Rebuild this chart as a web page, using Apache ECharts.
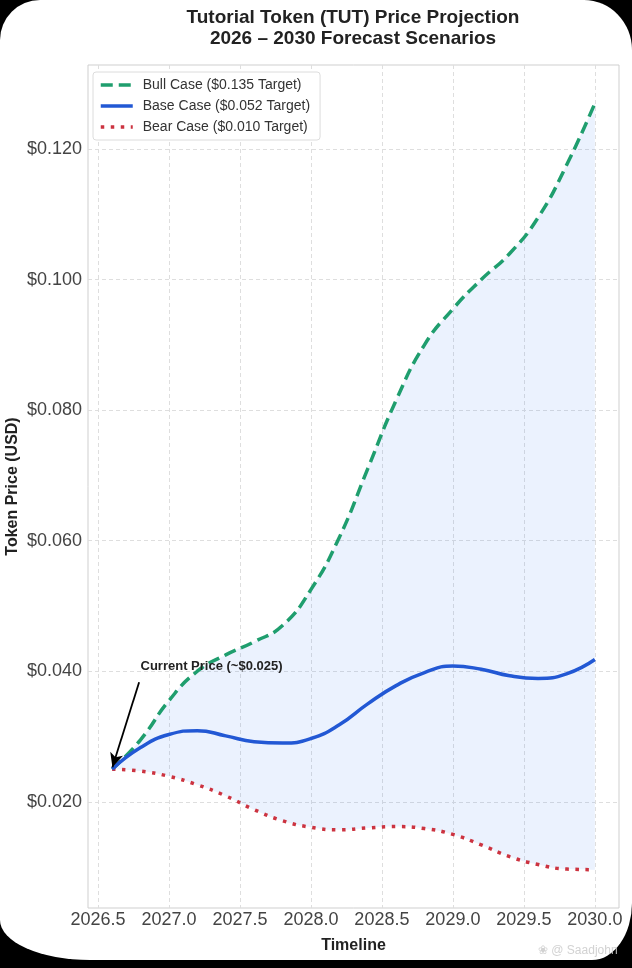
<!DOCTYPE html>
<html>
<head>
<meta charset="utf-8">
<script src="https://cdn.jsdelivr.net/npm/echarts@6/dist/echarts.min.js"></script>
<style>
  html, body { margin: 0; padding: 0; background: #000; width: 632px; height: 968px; overflow: hidden; }
  #card { position: absolute; left: 0; top: 0; width: 632px; height: 960px; background: #fff;
          border-radius: 40px 48px 40px 90px / 40px 50px 57px 40px; }
  #chart { position: absolute; left: 0; top: 0; width: 632px; height: 968px; }
</style>
</head>
<body>
<div id="card"></div>
<div id="chart"></div>
<script>
// ---- data ----
const years = [2026.6, 2026.8, 2027.0, 2027.2, 2027.4, 2027.6, 2027.8, 2028.0, 2028.2,
               2028.4, 2028.6, 2028.8, 2029.0, 2029.2, 2029.4, 2029.6, 2029.8, 2030.0];
const bullCase = [0.0250, 0.0295, 0.0355, 0.0400, 0.0425, 0.0445, 0.0470, 0.0525, 0.0605,
                  0.0710, 0.0815, 0.0900, 0.0955, 0.1000, 0.1040, 0.1095, 0.1175, 0.1270];
const baseCase = [0.0250, 0.0283, 0.0303, 0.0309, 0.0301, 0.0292, 0.0290, 0.0297, 0.0318,
                  0.0350, 0.0378, 0.0398, 0.0408, 0.0403, 0.0393, 0.0389, 0.0396, 0.0418];
const bearCase = [0.0250, 0.0247, 0.0239, 0.0226, 0.0209, 0.0188, 0.0171, 0.0161, 0.0157,
                  0.0160, 0.0162, 0.0159, 0.0150, 0.0134, 0.0116, 0.0104, 0.0097, 0.0096];
const seriesNames = ['Bull Case ($0.135 Target)', 'Base Case ($0.052 Target)', 'Bear Case ($0.010 Target)'];
const xTicks = [2026.5, 2027.0, 2027.5, 2028.0, 2028.5, 2029.0, 2029.5, 2030.0];
const yTicks = [0.020, 0.040, 0.060, 0.080, 0.100, 0.120];
const titleLines = ['Tutorial Token (TUT) Price Projection', '2026 \u2013 2030 Forecast Scenarios'];
const annotationText = 'Current Price (~$0.025)';
const arrowTail = [2026.79, 0.0383];
const arrowTip = [2026.602, 0.0253];
const annotationAt = [2026.80, 0.0408];

// ---- build ----
const FONT = '"Liberation Sans", Arial, sans-serif';
const pairs = (ys) => years.map((x, i) => [x, ys[i]]);
// band series store [y, x] so that the stacked dimension is the value (y) dimension
const bandPairs = (ys) => years.map((x, i) => [ys[i], x]);
const allY = bullCase.concat(baseCase, bearCase);
const yLo = Math.min(...allY), yHi = Math.max(...allY);
const xLo = years[0], xHi = years[years.length - 1];
const mx = (xHi - xLo) * 0.05, my = (yHi - yLo) * 0.05;

const chart = echarts.init(document.getElementById('chart'), null, { renderer: 'canvas' });
chart.setOption({
  backgroundColor: 'transparent',
  animation: false,
  textStyle: { fontFamily: FONT },
  title: {
    text: titleLines.join('\n'),
    left: 353, top: 7, textAlign: 'center', padding: 0,
    textStyle: { fontFamily: FONT, fontSize: 19, fontWeight: 'bold', color: '#222', lineHeight: 21 }
  },
  legend: {
    data: seriesNames,
    orient: 'vertical', left: 93, top: 72,
    padding: [6, 10, 6, 6], itemGap: 7, itemWidth: 32, itemHeight: 14,
    backgroundColor: '#fff', borderColor: '#dcdcdc', borderWidth: 1, borderRadius: 3,
    itemStyle: { opacity: 0 },
    lineStyle: { width: 3.5 },
    textStyle: { fontFamily: FONT, fontSize: 14, color: '#333', padding: [0, 0, 0, 5] }
  },
  grid: { left: 88, right: 13, top: 65, bottom: 60, containLabel: false, outerBoundsMode: 'none',
          show: true, borderColor: '#cfcfcf', borderWidth: 1, backgroundColor: 'transparent' },
  xAxis: {
    type: 'value', min: xLo - mx, max: xHi + mx,
    name: 'Timeline', nameLocation: 'middle', nameGap: 30, nameMoveOverlap: false,
    nameTextStyle: { fontFamily: FONT, fontSize: 16, fontWeight: 'bold', color: '#222' },
    axisLine: { show: false }, axisTick: { show: false, customValues: xTicks },
    axisLabel: { customValues: xTicks, formatter: v => v.toFixed(1), fontFamily: FONT, fontSize: 18, color: '#444', margin: 3 },
    splitLine: { show: true, lineStyle: { color: '#dedede', type: [4, 3], width: 1 } }
  },
  yAxis: {
    type: 'value', min: yLo - my, max: yHi + my,
    name: 'Token Price (USD)', nameLocation: 'middle', nameGap: 67, nameRotate: 90, nameMoveOverlap: false,
    nameTextStyle: { fontFamily: FONT, fontSize: 16, fontWeight: 'bold', color: '#222' },
    axisLine: { show: false }, axisTick: { show: false, customValues: yTicks },
    axisLabel: { customValues: yTicks, formatter: v => '$' + v.toFixed(3), fontFamily: FONT, fontSize: 18, color: '#444', margin: 6 },
    splitLine: { show: true, lineStyle: { color: '#dedede', type: [4, 3], width: 1 } }
  },
  series: [
    { name: 'bandLow', type: 'line', stack: 'band', data: bandPairs(bearCase), encode: { x: 1, y: 0 }, smooth: 0.5,
      showSymbol: false, symbol: 'none', lineStyle: { opacity: 0 }, silent: true, z: 1 },
    { name: 'bandHigh', type: 'line', stack: 'band', data: bandPairs(bullCase.map((v, i) => v - bearCase[i])),
      encode: { x: 1, y: 0 }, smooth: 0.5,
      showSymbol: false, symbol: 'none', lineStyle: { opacity: 0 }, silent: true, z: 1,
      areaStyle: { color: 'rgba(59,130,246,0.10)', opacity: 1 } },
    { name: seriesNames[0], type: 'line', data: pairs(bullCase), smooth: 0.5, showSymbol: false, symbol: 'none', z: 3,
      color: '#1f9e6e', lineStyle: { color: '#1f9e6e', width: 3.5, type: [12, 6] },
      markLine: {
        silent: true, symbol: ['none', 'arrow'], symbolSize: [10, 14],
        label: { show: false },
        lineStyle: { color: '#000', width: 1.8, type: 'solid' },
        data: [[{ coord: arrowTail }, { coord: arrowTip }]]
      },
      markPoint: {
        silent: true, symbol: 'circle', symbolSize: 0,
        data: [{ coord: annotationAt }],
        label: { show: true, position: 'right', distance: 0, formatter: annotationText,
                 fontFamily: FONT, fontSize: 13, fontWeight: 'bold', color: '#222' }
      }
    },
    { name: seriesNames[1], type: 'line', data: pairs(baseCase), smooth: 0.5, showSymbol: false, symbol: 'none', z: 4,
      color: '#2258d4', lineStyle: { color: '#2258d4', width: 3.5 } },
    { name: seriesNames[2], type: 'line', data: pairs(bearCase), smooth: 0.5, showSymbol: false, symbol: 'none', z: 3,
      color: '#cc3340', lineStyle: { color: '#cc3340', width: 3.5, type: [3.5, 6.5] } }
  ],
  graphic: [
    { type: 'text', left: 538, top: 945, z: 100,
      style: { text: '\u2740 @ Saadjohn', fill: 'rgba(205,205,205,0.9)', font: '12px ' + FONT } }
  ]
});
</script>
</body>
</html>
